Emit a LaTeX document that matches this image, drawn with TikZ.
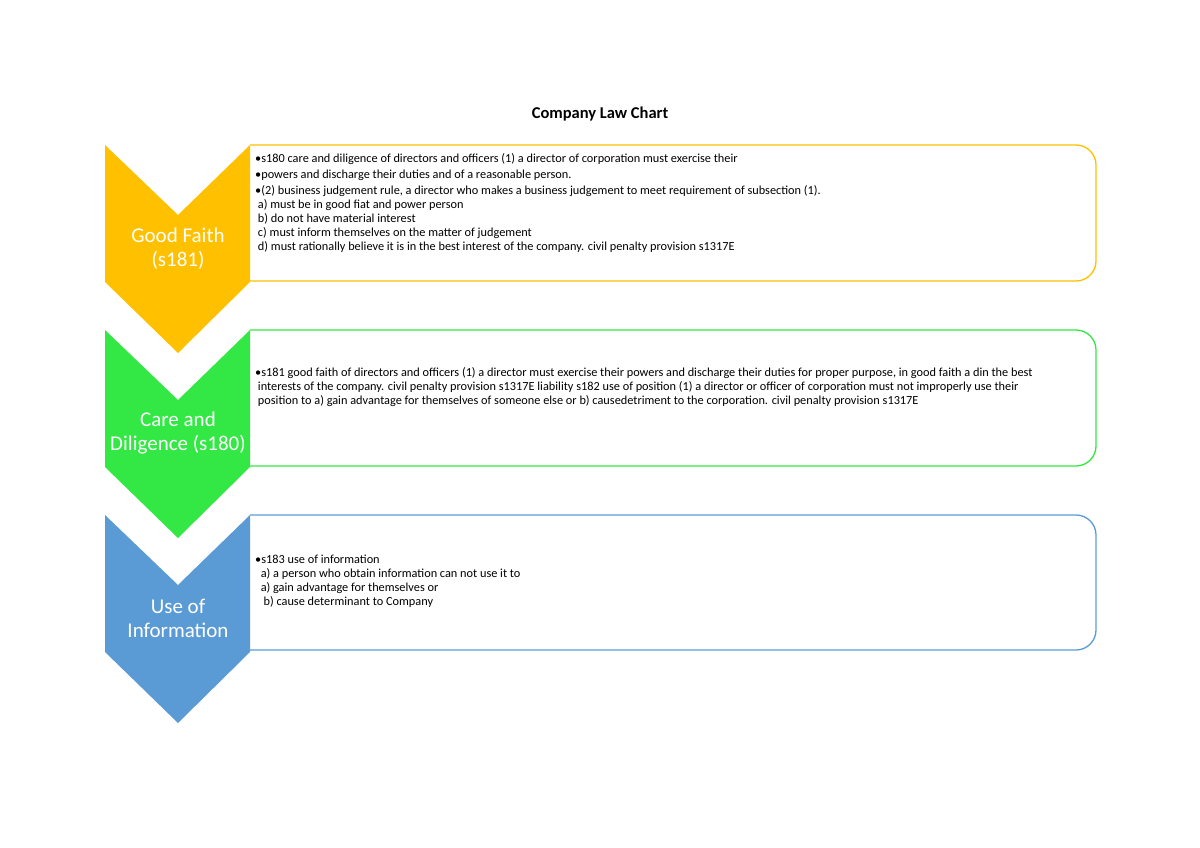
\documentclass[tikz,border=0pt]{standalone}
\usepackage{fontspec}
\setmainfont{Carlito}
\definecolor{cy}{HTML}{FFC000}
\definecolor{cg}{HTML}{33E845}
\definecolor{cb}{HTML}{5B9BD5}
\begin{document}
\begin{tikzpicture}[x=1pt,y=-1pt,
  chev/.style={fill=#1,draw=none},
  boxline/.style={draw=#1,line width=1.3pt,rounded corners=20pt},
  lab/.style={text=white,font=\fontsize{21}{24}\selectfont,align=center},
  body/.style={anchor=north west,align=left,inner sep=0pt,font=\fontsize{12.3}{14}\selectfont}]
\useasboundingbox (0,0) rectangle (1200,848);
\node (title) at (600,114) {\fontsize{16.5}{19}\selectfont\bfseries Company Law Chart};
% yellow
\draw[boxline=cy] (250,145) -- (1096,145) -- (1096,281) -- (250,281);
\fill[chev=cy] (105,145) -- (178,215) -- (250,145) -- (250,282) -- (178,353) -- (105,282) -- cycle;
\node[lab] (l1) at (178,249) {Good Faith\\(s181)};
\node[body] (t1) at (255,153) {•s180 care and diligence of directors and officers (1) a director of corporation must exercise their\\[2pt]
•powers and discharge their duties and of a reasonable person.\\[2pt]
•(2) business judgement rule, a director who makes a business judgement to meet requirement of subsection (1).\\
\ a) must be in good fiat and power person\\
\ b) do not have material interest\\
\ c) must inform themselves on the matter of judgement\\
\ d) must rationally believe it is in the best interest of the company. civil penalty provision s1317E};
% green
\draw[boxline=cg] (250,330) -- (1096,330) -- (1096,466) -- (250,466);
\fill[chev=cg] (105,330) -- (178,400) -- (250,330) -- (250,467) -- (178,538) -- (105,467) -- cycle;
\node[lab] (l2) at (178,433) {Care and\\Diligence (s180)};
\node[body] (t2) at (255,367) {•s181 good faith of directors and officers (1) a director must exercise their powers and discharge their duties for proper purpose, in good faith a din the best\\
\ interests of the company. civil penalty provision s1317E liability s182 use of position (1) a director or officer of corporation must not improperly use their\\
\ position to a) gain advantage for themselves of someone else or b) causedetriment to the corporation. civil penalty provision s1317E};
% blue
\draw[boxline=cb] (250,515) -- (1096,515) -- (1096,650) -- (250,650);
\fill[chev=cb] (105,515) -- (178,585) -- (250,515) -- (250,652) -- (178,723) -- (105,652) -- cycle;
\node[lab] (l3) at (178,618) {Use of\\Information};
\node[body] (t3) at (255,555) {•s183 use of information\\
\ \ a) a person who obtain information can not use it to\\
\ \ a) gain advantage for themselves or\\
\ \ \ b) cause determinant to Company};
\end{tikzpicture}
\end{document}
